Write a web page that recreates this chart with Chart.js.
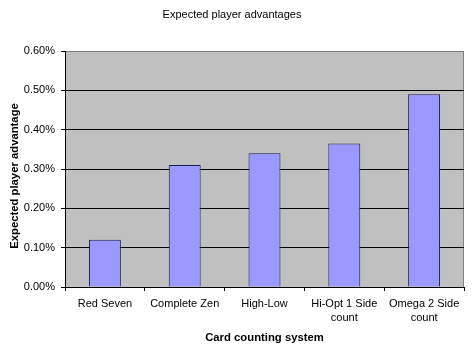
<!DOCTYPE html>
<html>
<head>
<meta charset="utf-8">
<script src="https://cdn.jsdelivr.net/npm/chart.js@4"></script>
<style>
html,body{margin:0;padding:0;background:#fff;}
#wrap{width:474px;height:355px;}
</style>
</head>
<body>
<div id="wrap"><canvas id="c" width="474" height="355"></canvas></div>
<script>
const categories = ["Red Seven", "Complete Zen", "High-Low", ["Hi-Opt 1 Side", "count"], ["Omega 2 Side", "count"]];
const advantages = [0.12, 0.31, 0.34, 0.365, 0.49];
const yTicks = [0, 0.1, 0.2, 0.3, 0.4, 0.5, 0.6];
const chartTitle = 'Expected player advantages';
const xTitle = 'Card counting system';
const yTitle = 'Expected player advantage';

const FONT = "'Liberation Sans', Arial, sans-serif";

const plotBg = {
  id: 'plotBg',
  beforeDraw(chart) {
    const {ctx, chartArea: a} = chart;
    ctx.save();
    ctx.fillStyle = '#C0C0C0';
    ctx.fillRect(a.left, a.top, a.right - a.left, a.bottom - a.top);
    ctx.strokeStyle = '#808080';
    ctx.lineWidth = 1;
    ctx.strokeRect(a.left + 0.5, a.top + 0.5, a.right - a.left - 1, a.bottom - a.top);
    ctx.restore();
  },
  afterDraw(chart) {
    const {ctx} = chart;
    const a = chart.chartArea;
    ctx.save();
    ctx.fillStyle = '#000';
    ctx.font = "bold 11.3px " + FONT;
    ctx.textAlign = 'center';
    ctx.textBaseline = 'middle';
    ctx.translate(14.5, (a.top + a.bottom) / 2 + 7);
    ctx.rotate(-Math.PI / 2);
    ctx.fillText(yTitle, 0, 0);
    ctx.restore();
  }
};

new Chart(document.getElementById('c'), {
  type: 'bar',
  data: {
    labels: categories,
    datasets: [{
      data: advantages,
      backgroundColor: '#9999FF',
      borderColor: '#1A1A4D',
      borderWidth: 1,
      categoryPercentage: 1,
      barPercentage: 0.4
    }]
  },
  options: {
    responsive: false,
    animation: false,
    devicePixelRatio: 1,
    layout: {padding: {left: 0, right: 10, top: 0, bottom: 0}},
    plugins: {
      legend: {display: false},
      tooltip: {enabled: false},
      title: {
        display: true,
        text: chartTitle,
        color: '#000',
        font: {family: FONT, size: 11, weight: 'normal', lineHeight: 1.2},
        padding: {top: 8.5, bottom: 29.3}
      }
    },
    scales: {
      x: {
        grid: {
          offset: true,
          drawOnChartArea: false,
          drawTicks: true,
          tickLength: 4,
          tickColor: '#000'
        },
        border: {display: true, color: '#000', width: 1},
        ticks: {
          color: '#000',
          font: {family: FONT, size: 11, lineHeight: 1.36},
          padding: 5,
          maxRotation: 0,
          autoSkip: false
        },
        title: {
          display: true,
          text: xTitle,
          color: '#000',
          font: {family: FONT, size: 11.3, weight: 'bold', lineHeight: 1.2},
          padding: {top: 0, bottom: 10}
        },
        afterFit(scale) { scale.height = 68; }
      },
      y: {
        min: 0,
        max: 0.6,
        afterBuildTicks(scale) { scale.ticks = yTicks.map(v => ({value: v})); },
        grid: {
          color: (ctx) => (ctx.tick && Math.abs(ctx.tick.value - 0.6) < 1e-9) ? '#808080' : '#000',
          tickColor: '#000',
          tickLength: 4,
          lineWidth: 1
        },
        border: {display: true, color: '#000', width: 1},
        ticks: {
          color: '#000',
          font: {family: FONT, size: 11},
          padding: 6,
          callback: (v) => Number(v).toFixed(2) + '%'
        },
        title: {display: false},
        afterFit(scale) { scale.width = 65; }
      }
    }
  },
  plugins: [plotBg]
});
</script>
</body>
</html>
